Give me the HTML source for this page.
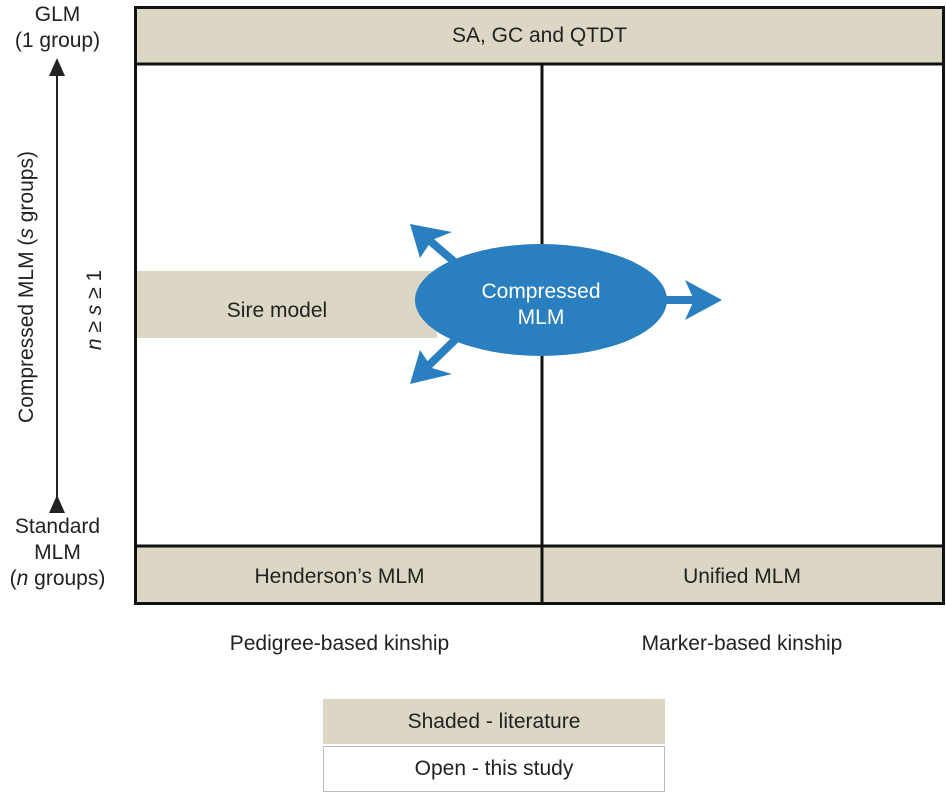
<!DOCTYPE html>
<html><head><style>
body{margin:0;width:946px;height:796px;background:#fff;font-family:"Liberation Sans",sans-serif;position:relative;overflow:hidden}
.t{position:absolute;color:#222;font-size:21px;text-align:center;line-height:26px}
</style></head><body>
<svg width="946" height="796" style="position:absolute;left:0;top:0">
<defs><marker id="a" markerWidth="10" markerHeight="10" refX="5" refY="5" orient="auto"><path d="M0,1 L9,5 L0,9 Z" fill="#222"/></marker></defs>
<rect x="135.5" y="7.5" width="808" height="596" fill="#fff" stroke="#111" stroke-width="3"/>
<rect x="137" y="9" width="805" height="55" fill="#dcd6c4"/>
<line x1="135" y1="64" x2="944" y2="64" stroke="#111" stroke-width="3"/>
<rect x="137" y="547" width="805" height="55" fill="#dcd6c4"/>
<line x1="135" y1="546" x2="944" y2="546" stroke="#111" stroke-width="3"/>
<line x1="542" y1="64" x2="542" y2="604" stroke="#111" stroke-width="3"/>
<rect x="137" y="271" width="300" height="67" fill="#dcd6c4"/>
<g stroke="#2a7fc1" stroke-width="8" fill="#2a7fc1">
<line x1="458" y1="265" x2="422" y2="234"/>
<line x1="458" y1="337" x2="422" y2="372"/>
<line x1="660" y1="300" x2="700" y2="300"/>
</g>
<g fill="#2a7fc1">
<path d="M410,224 L452,232 L432,240 L420,258 Z"/>
<path d="M410,384 L420,350 L432,368 L452,374 Z"/>
<path d="M722,300 L685,280 L694,300 L685,320 Z"/>
</g>
<ellipse cx="541" cy="300" rx="126" ry="56" fill="#2a7fc1"/>
<line x1="57" y1="503" x2="57" y2="66" stroke="#222" stroke-width="2" marker-end="url(#a)" marker-start="url(#a)"/>
<rect x="323.5" y="699.5" width="341" height="44" fill="#dcd6c4" stroke="#dcd6c4"/>
<rect x="323.5" y="746.5" width="341" height="45" fill="#fff" stroke="#bbb"/>
</svg>
<div class="t" style="left:0;top:2px;width:115px">GLM<br>(1 group)</div>
<div class="t" style="left:0;top:514px;width:115px">Standard<br>MLM<br>(<i>n</i> groups)</div>
<div class="t" style="left:-123px;top:274px;width:300px;transform:rotate(-90deg)">Compressed MLM (<i>s</i> groups)</div>
<div class="t" style="left:35px;top:297px;width:120px;transform:rotate(-90deg)"><i>n</i> ≥ <i>s</i> ≥ 1</div>
<div class="t" style="left:137px;top:23px;width:805px">SA, GC and QTDT</div>
<div class="t" style="left:137px;top:298px;width:280px">Sire model</div>
<div class="t" style="left:441px;top:279px;width:200px;color:#fff">Compressed<br>MLM</div>
<div class="t" style="left:137px;top:564px;width:405px">Henderson’s MLM</div>
<div class="t" style="left:542px;top:564px;width:400px">Unified MLM</div>
<div class="t" style="left:137px;top:631px;width:405px">Pedigree-based kinship</div>
<div class="t" style="left:542px;top:631px;width:400px">Marker-based kinship</div>
<div class="t" style="left:323px;top:709px;width:342px">Shaded - literature</div>
<div class="t" style="left:323px;top:756px;width:342px">Open - this study</div>
</body></html>
